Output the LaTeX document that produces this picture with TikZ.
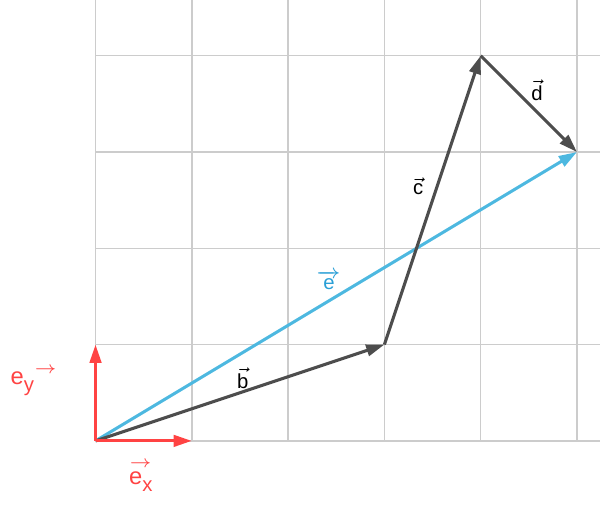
\documentclass[tikz,border=0pt]{standalone}
\usepackage{amsmath}
\usepackage{fontspec}
\setmainfont{Liberation Sans}
\usepackage{tikz}
\usetikzlibrary{arrows.meta}
\usetikzlibrary{positioning}
\tikzset{>={Triangle[length=5.4pt,width=3.4pt]}}
\definecolor{vecgray}{HTML}{4D4D4D}
\definecolor{vecblue}{HTML}{4DB8E0}
\definecolor{labblue}{HTML}{2A9FD6}
\definecolor{unitred}{HTML}{FF4343}
\definecolor{gridgray}{HTML}{CCCCCC}
\newcommand{\lowsub}[1]{\raisebox{-0.55ex}{\fontsize{6}{6}\selectfont #1}}
\newcommand{\smallarr}{$\scriptstyle\rightarrow$}
\tikzset{
  vecline/.style={->, color=vecgray, line width=0.9pt},
  unitline/.style={->, color=unitred, line width=0.9pt},
  veclabel/.style={font=\fontsize{6}{7}\selectfont, inner sep=0pt},
  unitlabel/.style={font=\fontsize{7}{8}\selectfont, color=unitred, inner sep=0pt}
}

\begin{document}
\begin{tikzpicture}
        \useasboundingbox (-0.992,-0.789) rectangle (5.239,4.579);
        % grid
        \foreach \x in {0,...,5}
            \draw [gridgray, line width=0.45pt] (\x,0) -- (\x,4.579);
        \foreach \y in {0,...,4}
            \draw [gridgray, line width=0.45pt] (0,\y) -- (5.239,\y);
        \coordinate (O) at (0,0);
        \coordinate (B) at (3,1);
        \coordinate (C) at (4,4);
        \coordinate (D) at (5,3);
        \coordinate (Ex) at (1,0);
        \coordinate (Ey) at (0,1);
        \draw [->, color=vecblue, line width=0.9pt] (O)--(D);
        \draw [vecline] (O)--(B);
        \draw [vecline] (B)--(C);
        \draw [vecline] (C)--(D);
        \draw [unitline] (O)--(Ex);
        \draw [unitline] (O)--(Ey);
        \node [veclabel] (b) at (1.53,0.654) {$\vec{\text{b}}$};
        \node [veclabel] (c) at (3.35,2.646) {$\vec{\text{c}}$};
        \node [veclabel] (d) at (4.585,3.645) {$\vec{\text{d}}$};
        \node [veclabel, color=labblue] (e) at (2.424,1.672) {$\overrightarrow{\text{e}}$};
        \node [unitlabel] (ex) at (0.47,-0.37) {\rlap{\raisebox{1.35ex}{\smallarr}}e\lowsub{x}};
        \node [unitlabel] (ey) at (-0.64,0.62) {e\lowsub{y}\raisebox{0.95ex}{\smallarr}};
\end{tikzpicture}
\end{document}
